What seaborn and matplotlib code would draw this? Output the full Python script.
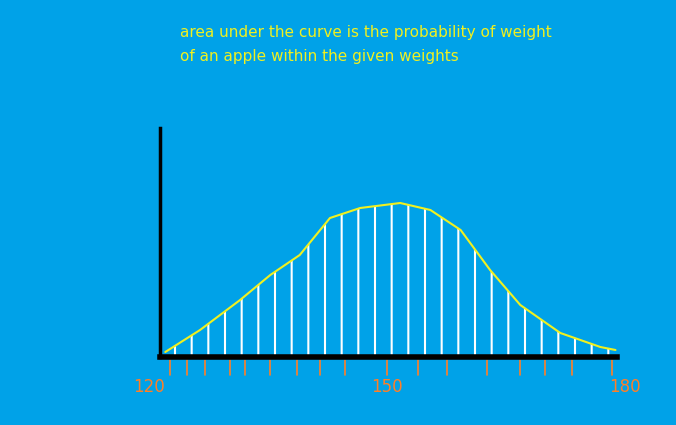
import matplotlib
matplotlib.use("Agg")
import matplotlib.pyplot as plt
import seaborn as sns
import numpy as np

weights = [120.7, 125.3, 130.6, 134.6, 138.5, 142.5, 146.5, 151.8, 155.8, 159.8, 163.7, 167.7, 173.0, 178.3, 180.3]
density = [5, 27, 57, 82, 102, 139, 149, 154, 147, 127, 87, 52, 24, 10, 7]
tick_pos = [121.3, 123.6, 126.0, 129.3, 131.3, 134.6, 138.2, 141.2, 144.5, 150.1, 154.2, 158.0, 163.3, 167.7, 171.0, 174.6, 179.9]
label_text = ["120", "150", "180"]
label_pos = [118.5, 150.0, 181.5]

sns.set_style("white")
fig = plt.figure(figsize=(6.76, 4.25), dpi=100)
fig.patch.set_facecolor("#00A2E8")
ax = fig.add_axes([160/676, 1-357/425, 457/676, 229/425])
ax.set_facecolor("none")
ax.set_xlim(120, 180.5)
ax.set_ylim(0, 229)
for s in ["top", "right"]:
    ax.spines[s].set_visible(False)
ax.spines["left"].set_color("black"); ax.spines["left"].set_linewidth(2.5)
ax.spines["bottom"].set_color("black"); ax.spines["bottom"].set_linewidth(4)
ax.set_xticks([]); ax.set_yticks([])

plt.rcParams["hatch.color"] = "white"
plt.rcParams["hatch.linewidth"] = 1.5
ax.fill_between(weights, 0, density, facecolor="none", edgecolor="white", hatch="|", linewidth=0)
sns.lineplot(x=weights, y=density, ax=ax, color="#F0F020", linewidth=1.5)
for t in tick_pos:
    ax.plot([t, t], [-3, -18], color="#FF7F27", lw=1.2, clip_on=False)
for txt, p in zip(label_text, label_pos):
    ax.text(p, -30, txt, color="#FF7F27", ha="center", va="center", fontsize=12, clip_on=False)

fig.text(180/676, 1-32/425, "area under the curve is the probability of weight", color="#F0F020", fontsize=11, va="center")
fig.text(180/676, 1-56/425, "of an apple within the given weights", color="#F0F020", fontsize=11, va="center")
fig.savefig("out.png", dpi=100, facecolor=fig.get_facecolor())
